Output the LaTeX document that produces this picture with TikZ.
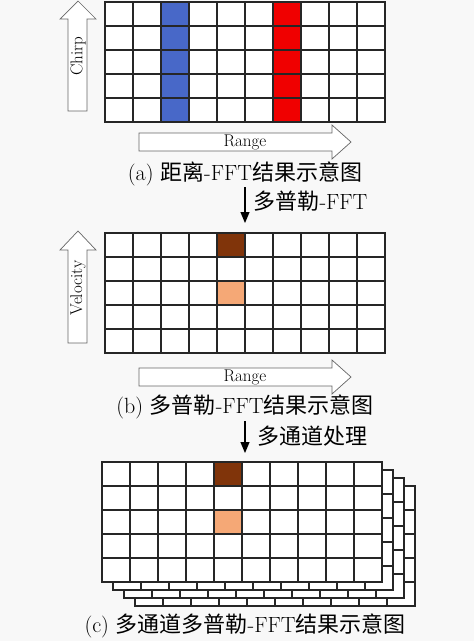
\documentclass[tikz,border=0pt]{standalone}
\usepackage{fontspec}
\newfontfamily\cjk{Noto Sans CJK SC}
\usetikzlibrary{arrows.meta}
\definecolor{bgcol}{RGB}{248,248,248}
\definecolor{blueband}{RGB}{72,104,200}
\definecolor{redband}{RGB}{240,0,0}
\definecolor{peakdark}{RGB}{128,52,10}
\definecolor{peaklight}{RGB}{245,168,118}
\tikzset{
  cell/.style={draw=black!85, line width=1.2pt, fill=white},
  hollow/.style={draw=black!60, fill=white, line width=0.7pt, line join=miter},
  axistext/.style={font=\fontsize{17}{20}\selectfont},
  caption/.style={font=\fontsize{22}{26}\selectfont},
  flow/.style={line width=1.1pt, -{Triangle[width=9pt,length=11pt]}}
}
\begin{document}
\begin{tikzpicture}[x=1pt,y=-1pt]
\fill[bgcol] (0,0) rectangle (474,641);
\useasboundingbox (0,0) rectangle (474,641);

% (a) range-FFT
\foreach \i in {0,...,9}{
	\foreach \j in {0,...,4}{
		\draw[cell](105+28*\i,2+24*\j) rectangle ++(28,24);
	}
}
\foreach \j in {0,...,4}{
	\draw[cell, fill=blueband](161,2+24*\j) rectangle ++(28,24);
	\draw[cell, fill=redband](273,2+24*\j) rectangle ++(28,24);
}
\draw[hollow](68,111)--(68,19)--(60,19)--(78,1)--(96,19)--(87,19)--(87,111)--cycle;
\node[axistext, rotate=90] (chirp) at (78,56) {Chirp};
\draw[hollow](139,133)--(332,133)--(332,125)--(351,142)--(332,159)--(332,151)--(139,151)--cycle;
\node[axistext] (rangea) at (245,142) {Range};
\node[caption] (capa) at (245,174) {(a) {\cjk 距离}-FFT{\cjk 结果示意图}};

% step 1
\coordinate (outa) at (245,187);
\coordinate (inb) at (245,223);
\draw[flow](outa)--(inb);
\node[caption, anchor=west] (doppler) at (250,201) {{\cjk 多普勒}-FFT};

% (b) doppler-FFT
\foreach \i in {0,...,9}{
	\foreach \j in {0,...,4}{
		\draw[cell](105+28*\i,233+24*\j) rectangle ++(28,24);
	}
}
\draw[cell, fill=peakdark](217,233) rectangle ++(28,24);
\draw[cell, fill=peaklight](217,281) rectangle ++(28,24);
\draw[hollow](68,343)--(68,250)--(60,250)--(78,231)--(96,250)--(87,250)--(87,343)--cycle;
\node[axistext, rotate=90] (velocity) at (78,288) {Velocity};
\draw[hollow](139,368)--(332,368)--(332,360)--(351,377)--(332,394)--(332,386)--(139,386)--cycle;
\node[axistext] (rangeb) at (245,377) {Range};
\node[caption] (capb) at (245,407) {(b) {\cjk 多普勒}-FFT{\cjk 结果示意图}};

% step 2
\coordinate (outb) at (245,421);
\coordinate (inc) at (245,453);
\draw[flow](outb)--(inc);
\node[caption, anchor=west] (channels) at (254,436) {\cjk 多通道处理};

% (c) stacked channels
\foreach \k in {3,2,1}{
	\foreach \i in {0,...,9}{
		\foreach \j in {0,...,4}{
			\draw[cell](102+11*\k+28*\i,462+8*\k+24*\j) rectangle ++(28,24);
		}
	}
}
\foreach \i in {0,...,9}{
	\foreach \j in {0,...,4}{
		\draw[cell](102+28*\i,462+24*\j) rectangle ++(28,24);
	}
}
\draw[cell, fill=peakdark](214,462) rectangle ++(28,24);
\draw[cell, fill=peaklight](214,510) rectangle ++(28,24);
\node[caption] (capc) at (245,626) {(c) {\cjk 多通道多普勒}-FFT{\cjk 结果示意图}};
\end{tikzpicture}
\end{document}
